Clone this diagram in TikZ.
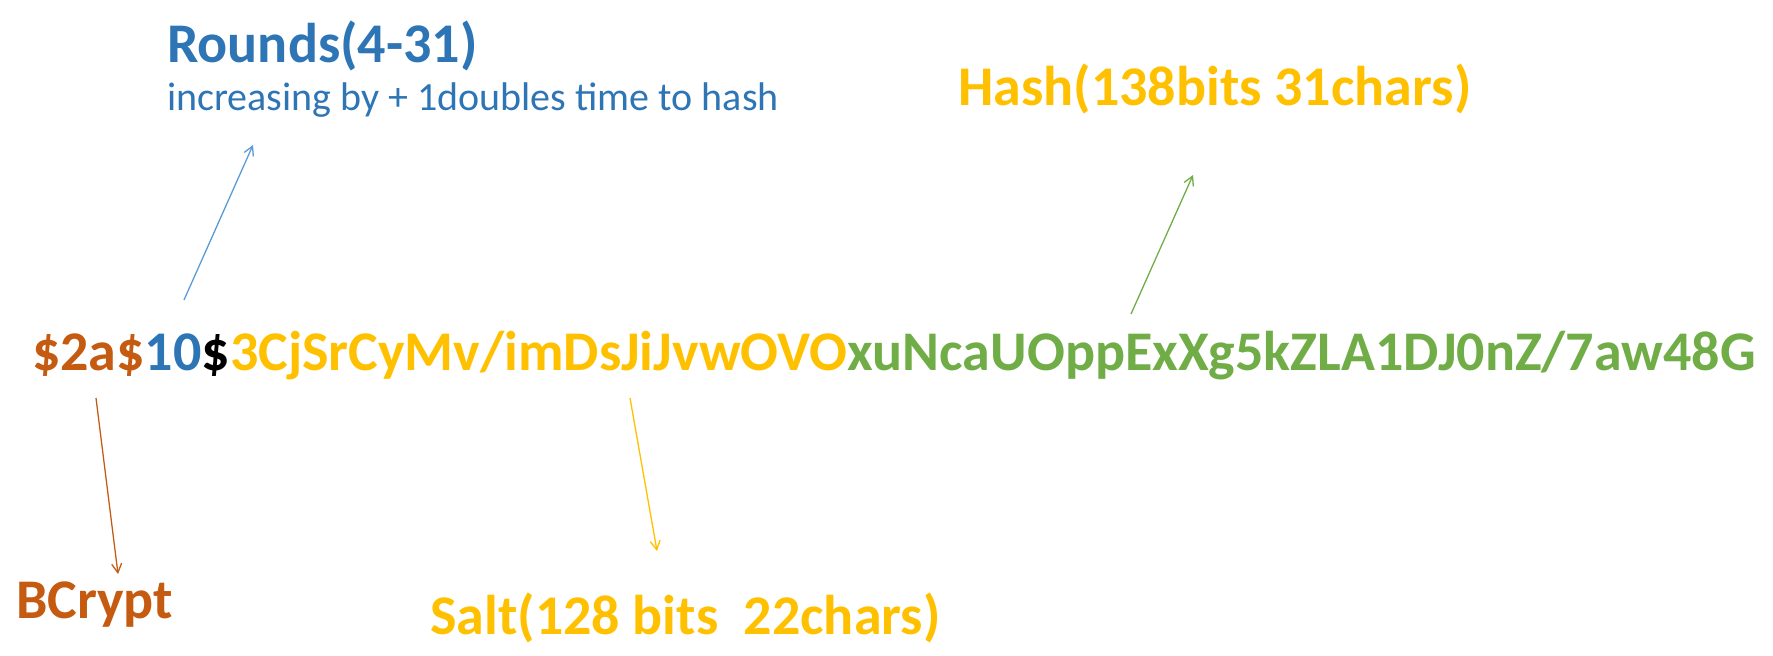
\documentclass[tikz,border=0pt]{standalone}
\usepackage{fontspec}
\setmainfont{Carlito}
\usetikzlibrary{arrows.meta}
\definecolor{cbrown}{HTML}{C55A11}
\definecolor{cblue}{HTML}{2E75B6}
\definecolor{cblueline}{HTML}{5B9BD5}
\definecolor{cyellow}{HTML}{FFC000}
\definecolor{cgreen}{HTML}{70AD47}
\tikzset{
  lbl/.style={anchor=base west, inner sep=0pt, font=\bfseries\fontsize{56}{60}\selectfont},
  conn/.style={line width=1.3pt, -{Straight Barb[length=9pt,width=10pt,line width=1.3pt]}},
}
\begin{document}
\begin{tikzpicture}[x=1pt,y=-1pt]
\useasboundingbox (0,0) rectangle (1773,656);
\node[lbl, text=cblue] (rounds) at (167,62) {Rounds(4-31)};
\node[anchor=base west, inner sep=0pt, font=\fontsize{40}{44}\selectfont, text=cblue] (incr) at (167,110) {increasing by + 1doubles time to hash};
\node[lbl, text=cyellow] (hash) at (958,105) {Hash(138bits 31chars)};
\node[lbl] (main) at (32,370) {\textcolor{cbrown}{\$2a\$}\textcolor{cblue}{10}\textcolor{black}{\$}\textcolor{cyellow}{3CjSrCyMv/imDsJiJvwOVO}\textcolor{cgreen}{xuNcaUOppExXg5kZLA1DJ0nZ/7aw48G}};
\node[lbl, text=cbrown] (bcrypt) at (16,618) {BCrypt};
\node[lbl, text=cyellow] (salt) at (430,634) {Salt(128 bits\ \ 22chars)};
\coordinate (b1) at (184,300);
\coordinate (b2) at (253,145);
\coordinate (g1) at (1131,314);
\coordinate (g2) at (1193,175);
\coordinate (r1) at (96,398);
\coordinate (r2) at (118,574);
\coordinate (y1) at (630,398);
\coordinate (y2) at (657,551);
\draw[conn, cblueline] (b1) -- (b2);
\draw[conn, cgreen] (g1) -- (g2);
\draw[conn, cbrown] (r1) -- (r2);
\draw[conn, cyellow] (y1) -- (y2);
\end{tikzpicture}
\end{document}
